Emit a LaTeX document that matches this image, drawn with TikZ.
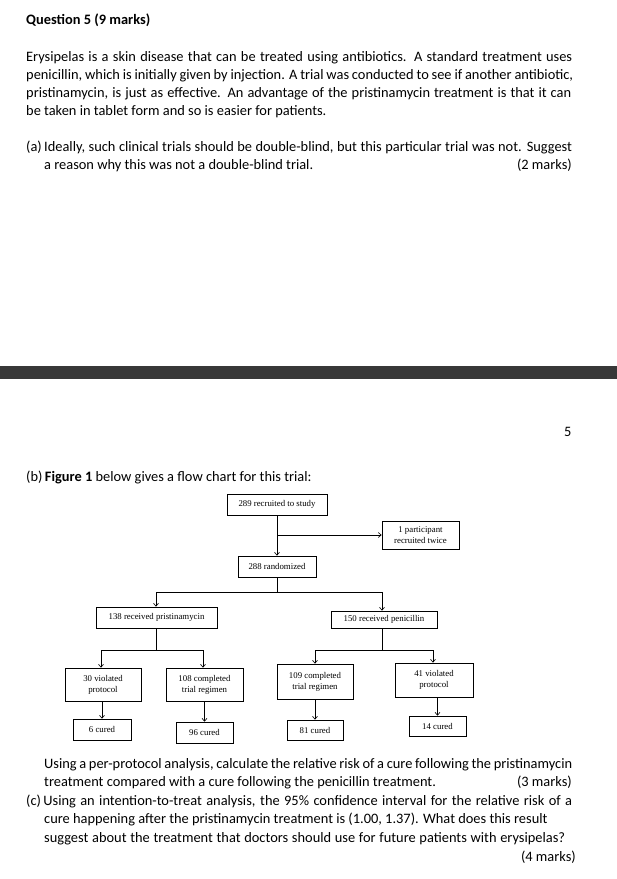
\documentclass[tikz,border=0pt]{standalone}
\usepackage{fontspec}
\setmainfont{Carlito}
\newfontfamily\tnr{Liberation Serif}
\usetikzlibrary{arrows.meta}
\newcommand{\jl}[2]{\makebox[#1pt][s]{#2}}
\begin{document}
\begin{tikzpicture}[x=1pt,y=-1pt,
  txt/.style={anchor=base west,inner sep=0pt,font=\fontsize{14.4}{16}\selectfont},
  rtxt/.style={anchor=base east,inner sep=0pt,font=\fontsize{14.4}{16}\selectfont},
  box/.style={draw,line width=0.6pt,inner sep=0pt,align=center,font=\tnr\fontsize{8.8}{11}\selectfont},
  ln/.style={line width=0.6pt},
  arr/.style={line width=0.6pt,-{Straight Barb[length=3pt,width=5pt]}}]
\useasboundingbox (0,0) rectangle (617,879);
\fill[white] (0,0) rectangle (617,879);
\node[txt] (q) at (26,24) {\textbf{Question 5 (9 marks)}};
\node[txt] (l1) at (26,61) {\jl{546}{Erysipelas is a skin disease that can be treated using antibiotics. A standard treatment uses}};
\node[txt] (l2) at (26,79) {\jl{547}{penicillin, which is initially given by injection. A trial was conducted to see if another antibiotic,}};
\node[txt] (l3) at (26,97) {\jl{545}{pristinamycin, is just as effective. An advantage of the pristinamycin treatment is that it can}};
\node[txt] (l4) at (26,115) {be taken in tablet form and so is easier for patients.};
\node[txt] (a1) at (26,151) {\jl{546}{(a)\,Ideally, such clinical trials should be double-blind, but this particular trial was not. Suggest}};
\node[txt] (a2) at (44,169) {a reason why this was not a double-blind trial.};
\node[rtxt] (a3) at (572,169) {(2 marks)};
\fill[black!78] (0,366) rectangle (617,379);
\node[txt] (pg) at (564,436) {5};
\node[txt] (b1) at (26,481) {(b)\,\textbf{Figure 1} below gives a flow chart for this trial:};
% flowchart
\node[box,minimum width=100pt,minimum height=21pt] (n289) at (277,504.5) {289 recruited to study};
\node[box,minimum width=77pt,minimum height=28pt] (n1) at (420.5,535) {1 participant\\recruited twice};
\node[box,minimum width=78pt,minimum height=21pt] (n288) at (277,566.5) {288 randomized};
\node[box,minimum width=121pt,minimum height=21pt] (n138) at (156.5,617.5) {138 received pristinamycin};
\node[box,minimum width=106pt,minimum height=17pt] (n150) at (384,619.5) {150 received penicillin};
\node[box,minimum width=76pt,minimum height=33pt] (n30) at (103,684.5) {30 violated\\protocol};
\node[box,minimum width=77pt,minimum height=33pt] (n108) at (204.5,684.5) {108 completed\\trial regimen};
\node[box,minimum width=76pt,minimum height=35pt] (n109) at (315,681.5) {109 completed\\trial regimen};
\node[box,minimum width=78pt,minimum height=34pt] (n41) at (434,680) {41 violated\\protocol};
\node[box,minimum width=58pt,minimum height=21pt] (n6) at (102,729.5) {6 cured};
\node[box,minimum width=57pt,minimum height=21pt] (n96) at (204.5,732.5) {96 cured};
\node[box,minimum width=56pt,minimum height=20pt] (n81) at (315,730) {81 cured};
\node[box,minimum width=57pt,minimum height=20pt] (n14) at (437.5,726) {14 cured};
\draw[arr] (n289.south) -- (n288.north);
\coordinate (j1) at (277,535);
\draw[arr] (j1) -- (n1.west);
\coordinate (j2) at (277,592);
\coordinate (j2l) at (156,592);
\coordinate (j2r) at (382,592);
\draw[ln] (n288.south) -- (j2);
\draw[ln] (j2l) -- (j2r);
\draw[arr] (j2l) -- (j2l|-n138.north);
\draw[arr] (j2r) -- (j2r|-n150.north);
\coordinate (j3) at (156,650);
\coordinate (j3l) at (101,650);
\coordinate (j3r) at (203,650);
\draw[ln] (j3|-n138.south) -- (j3);
\draw[ln] (j3l) -- (j3r);
\draw[arr] (j3l) -- (j3l|-n30.north);
\draw[arr] (j3r) -- (j3r|-n108.north);
\coordinate (j4) at (382,650);
\coordinate (j4l) at (315,650);
\coordinate (j4r) at (433,650);
\draw[ln] (j4|-n150.south) -- (j4);
\draw[ln] (j4l) -- (j4r);
\draw[arr] (j4l) -- (j4l|-n109.north);
\draw[arr] (j4r) -- (j4r|-n41.north);
\draw[arr] (n30.south-|n6.north) -- (n6.north);
\draw[arr] (n108.south) -- (n96.north);
\draw[arr] (n109.south) -- (n81.north);
\draw[arr] (n41.south-|n14.north) -- (n14.north);
% part c
\node[txt] (c1) at (44,768) {\jl{528}{Using a per-protocol analysis, calculate the relative risk of a cure following the pristinamycin}};
\node[txt] (c2) at (44,786) {treatment compared with a cure following the penicillin treatment.};
\node[rtxt] (c3) at (572,786) {(3 marks)};
\node[txt] (c4) at (26,805) {\jl{546}{(c)\,Using an intention-to-treat analysis, the 95\% confidence interval for the relative risk of a}};
\node[txt] (c5) at (44,823) {cure happening after the pristinamycin treatment is (1.00, 1.37). What does this result};
\node[txt] (c6) at (44,842) {\jl{521}{suggest about the treatment that doctors should use for future patients with erysipelas?}};
\node[rtxt] (c7) at (576,861) {(4 marks)};
\end{tikzpicture}
\end{document}
